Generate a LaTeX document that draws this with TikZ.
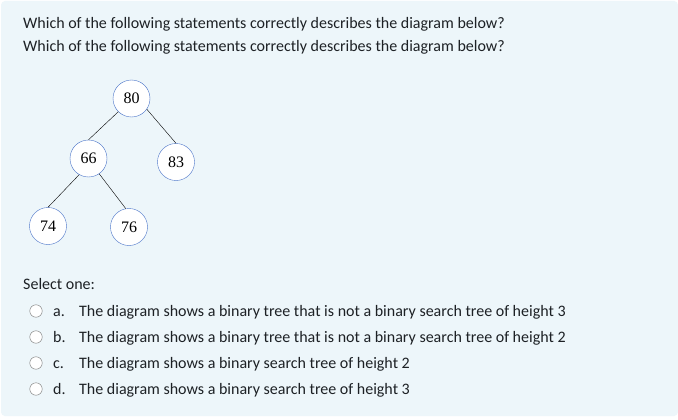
\documentclass[tikz,border=0pt]{standalone}
\usepackage{fontspec}
\setmainfont{Carlito}
\newfontfamily\numfont{Liberation Serif}
\usetikzlibrary{positioning}
\definecolor{panelbg}{RGB}{237,246,250}
\definecolor{ringblue}{RGB}{72,114,200}
\definecolor{inktext}{RGB}{29,33,37}
\definecolor{radiogray}{RGB}{120,120,120}

\begin{document}
\begin{tikzpicture}[x=1pt,y=-1pt,
    key/.style={draw=ringblue,fill=white,circle,minimum size=37pt,inner sep=0pt,font=\numfont\fontsize{16}{18}\selectfont},
    line/.style={anchor=base west,inner sep=0pt,text=inktext,font=\fontsize{16}{19}\selectfont},
    radio/.style={draw=radiogray,fill=white,circle,minimum size=12.5pt,inner sep=0pt}]
    \fill[white] (0,0) rectangle (678,420);
    \useasboundingbox (0,0) rectangle (678,420);
    \fill[panelbg,rounded corners=4pt] (1,1) rectangle (678,416);
    % question
    \node[line] (q1) at (23,29) {Which of the following statements correctly describes the diagram below?};
    \node[line] (q2) at (23,52) {Which of the following statements correctly describes the diagram below?};
    % tree
    \node[key] (n80) at (131.5,98.5) {80};
    \node[key] (n66) at (88.5,158.5) {66};
    \node[key] (n83) at (176,162) {83};
    \node[key] (n74) at (48,226) {74};
    \node[key] (n76) at (129,227) {76};
    \draw (n80.225) -- (n66.north);
    \draw (n80.-35) -- (n83.north);
    \draw (n66.240) -- (n74.north);
    \draw (n66.-55) -- (n76.100);
    % answers
    \node[line] (sel) at (23,289) {Select one:};
    \node[radio] (ra) at (36,311) {};
    \node[radio] (rb) at (36,337) {};
    \node[radio] (rc) at (36,363) {};
    \node[radio] (rd) at (36,389) {};
    \node[line] (la) at (53,316) {a.};
    \node[line] (lb) at (53,342) {b.};
    \node[line] (lc) at (53,368) {c.};
    \node[line] (ld) at (53,394) {d.};
    \node[line] (ta) at (79,316) {The diagram shows a binary tree that is not a binary search tree of height 3};
    \node[line] (tb) at (79,342) {The diagram shows a binary tree that is not a binary search tree of height 2};
    \node[line] (tc) at (79,368) {The diagram shows a binary search tree of height 2};
    \node[line] (td) at (79,394) {The diagram shows a binary search tree of height 3};
\end{tikzpicture}
\end{document}
